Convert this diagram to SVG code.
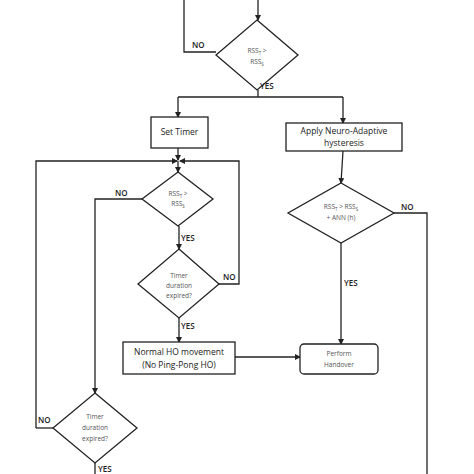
<svg xmlns="http://www.w3.org/2000/svg" width="474" height="474" viewBox="0 0 474 474">
<style>
.ln{stroke:#222;stroke-width:1.3;fill:none}
.nd{stroke:#222;stroke-width:1.3;fill:#fff}
.lb{font-family:"Open Sans","Liberation Sans",sans-serif;font-size:8px;fill:#222;font-weight:600}
.bt{font-family:"Open Sans","Liberation Sans",sans-serif;font-size:8.5px;fill:#222;text-anchor:middle}
.dt{font-family:"Open Sans","Liberation Sans",sans-serif;font-size:6.5px;fill:#555;text-anchor:middle}
.sb{font-size:4.5px}
</style>
<defs>
<marker id="ah" markerWidth="6" markerHeight="6" refX="5" refY="3" orient="auto" markerUnits="userSpaceOnUse">
<path d="M0,0 L6,3 L0,6 Z" fill="#222"/>
</marker>
</defs>
<rect width="474" height="474" fill="#fff"/>
<g id="connectors">
<line class="ln" x1="258" y1="0" x2="258" y2="20" marker-end="url(#ah)"/>
<polyline class="ln" points="184,0 184,52 216,52"/>
<line class="ln" x1="258" y1="90" x2="258" y2="97"/>
<line class="ln" x1="178" y1="97" x2="343" y2="97"/>
<line class="ln" x1="178" y1="97" x2="178" y2="117" marker-end="url(#ah)"/>
<line class="ln" x1="343" y1="97" x2="343" y2="123" marker-end="url(#ah)"/>
<line class="ln" x1="178" y1="148" x2="178" y2="160" marker-end="url(#ah)"/>
<polyline class="ln" points="36,428 36,161 177,161" marker-end="url(#ah)"/>
<polyline class="ln" points="218,284 239,284 239,161 180,161" marker-end="url(#ah)"/>
<line class="ln" x1="178" y1="161" x2="178" y2="172" marker-end="url(#ah)"/>
<polyline class="ln" points="142,199 95,199 95,393" marker-end="url(#ah)"/>
<line class="ln" x1="179" y1="226" x2="179" y2="249" marker-end="url(#ah)"/>
<line class="ln" x1="179" y1="318" x2="179" y2="342" marker-end="url(#ah)"/>
<line class="ln" x1="235" y1="357" x2="300" y2="357" marker-end="url(#ah)"/>
<line class="ln" x1="343" y1="151" x2="341" y2="183" marker-end="url(#ah)"/>
<line class="ln" x1="341" y1="243" x2="341" y2="344" marker-end="url(#ah)"/>
<polyline class="ln" points="394,213 427,213 427,474"/>
<line class="ln" x1="53" y1="428" x2="36" y2="428"/>
<line class="ln" x1="95" y1="463" x2="95" y2="474"/>
</g>
<g id="d1">
<polygon class="nd" points="257,20 298,55 257,90 216,55"/>
<text class="dt" x="257" y="53">RSS<tspan class="sb" dy="1.5">T</tspan><tspan dy="-1.5"> &gt;</tspan></text>
<text class="dt" x="257" y="64">RSS<tspan class="sb" dy="1.5">S</tspan></text>
</g>
<g id="set-timer">
<rect class="nd" x="151" y="117" width="57" height="31"/>
<text class="bt" x="179.5" y="135">Set Timer</text>
</g>
<g id="apply">
<rect class="nd" x="286" y="123" width="116" height="28"/>
<text class="bt" x="344" y="134">Apply Neuro-Adaptive</text>
<text class="bt" x="344" y="146">hysteresis</text>
</g>
<g id="d2">
<polygon class="nd" points="178,172 213,199 178,226 142,199"/>
<text class="dt" x="178" y="196">RSS<tspan class="sb" dy="1.5">T</tspan><tspan dy="-1.5"> &gt;</tspan></text>
<text class="dt" x="178" y="206">RSS<tspan class="sb" dy="1.5">S</tspan></text>
</g>
<g id="d3">
<polygon class="nd" points="179,249 219,284 179,318 138,284"/>
<text class="dt" x="179" y="278">Timer</text>
<text class="dt" x="179" y="288">duration</text>
<text class="dt" x="179" y="298">expired?</text>
</g>
<g id="normal-ho">
<rect class="nd" x="123" y="342" width="112" height="32"/>
<text class="bt" x="179" y="355">Normal HO movement</text>
<text class="bt" x="179" y="368">(No Ping-Pong HO)</text>
</g>
<g id="d-ann">
<polygon class="nd" points="341,183 394,213 341,243 288,213"/>
<text class="dt" x="341" y="209">RSS<tspan class="sb" dy="1.5">T</tspan><tspan dy="-1.5"> &gt; RSS</tspan><tspan class="sb" dy="1.5">S</tspan></text>
<text class="dt" x="341" y="220">+ ANN (h)</text>
</g>
<g id="perform">
<rect class="nd" x="300" y="344" width="78" height="30" rx="4"/>
<text class="dt" x="339" y="356">Perform</text>
<text class="dt" x="339" y="367">Handover</text>
</g>
<g id="d4">
<polygon class="nd" points="95,393 137,428 95,463 53,428"/>
<text class="dt" x="95" y="419">Timer</text>
<text class="dt" x="95" y="430">duration</text>
<text class="dt" x="95" y="441">expired?</text>
</g>
<g id="labels">
<text class="lb" x="192" y="48">NO</text>
<text class="lb" x="260" y="89">YES</text>
<text class="lb" x="115" y="196">NO</text>
<text class="lb" x="181" y="241">YES</text>
<text class="lb" x="223" y="280">NO</text>
<text class="lb" x="181" y="329">YES</text>
<text class="lb" x="401" y="210">NO</text>
<text class="lb" x="344" y="286">YES</text>
<text class="lb" x="38" y="423">NO</text>
<text class="lb" x="98" y="472">YES</text>
</g>
</svg>
